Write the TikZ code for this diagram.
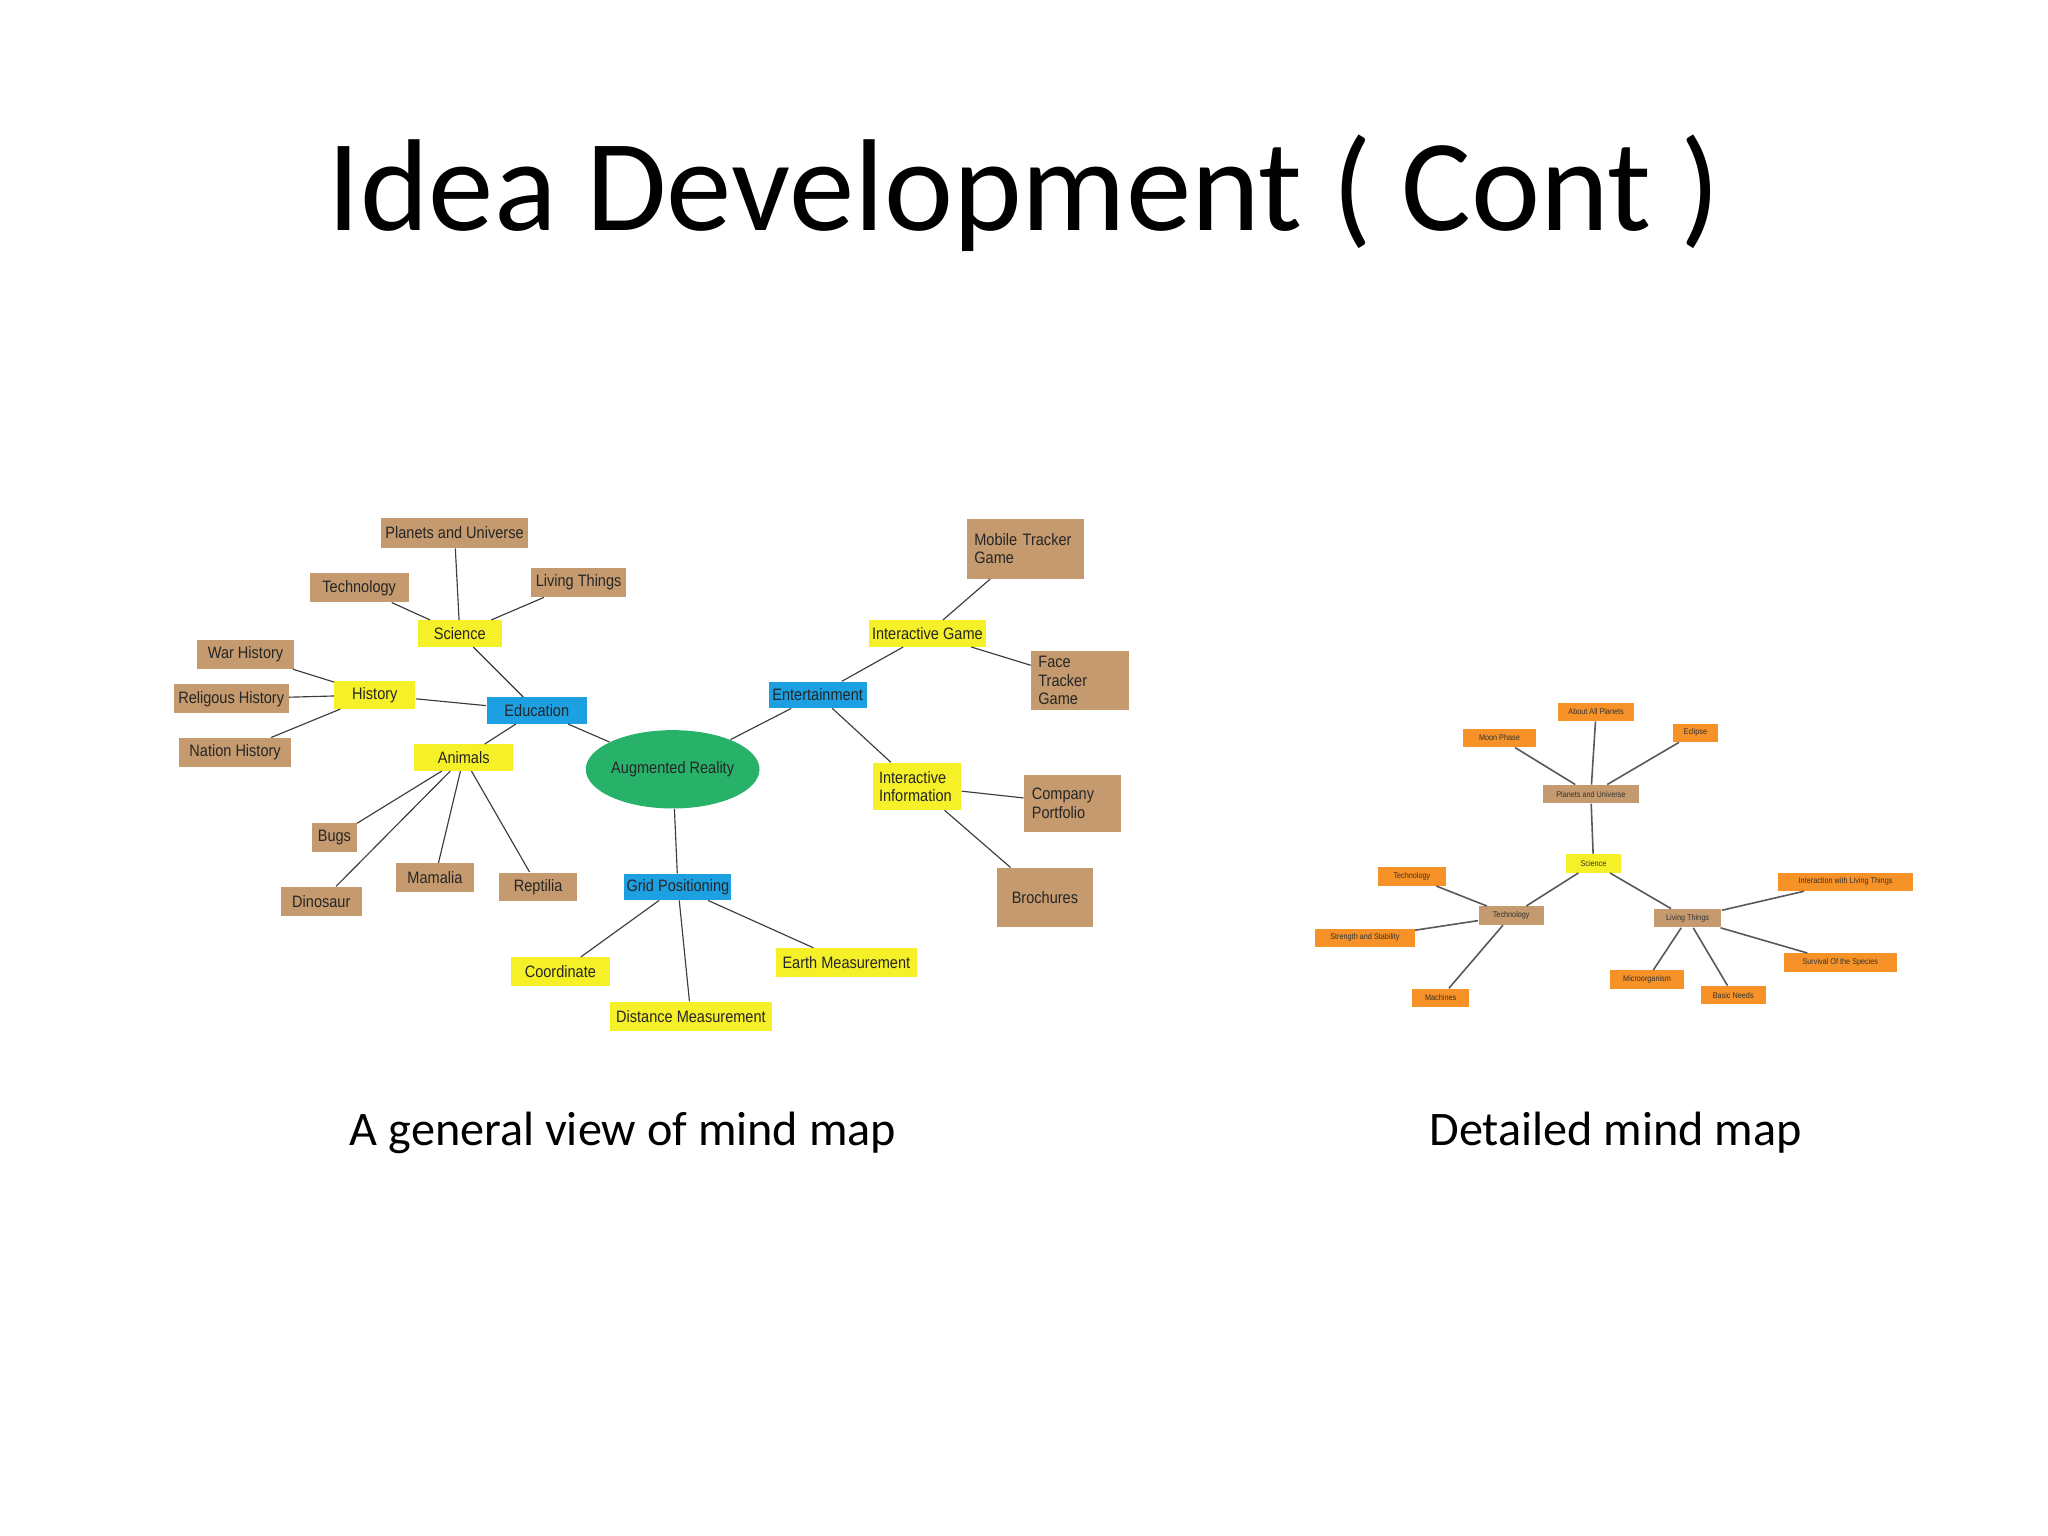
\documentclass[tikz,border=0pt]{standalone}
\usepackage{fontspec}
\setmainfont{Carlito}
\newfontfamily\nodefont[FakeStretch=0.88]{Liberation Sans}
\usetikzlibrary{shapes.geometric}
\definecolor{tanc}{RGB}{196,154,110}
\definecolor{yel}{RGB}{246,240,40}
\definecolor{blu}{RGB}{28,160,226}
\definecolor{grn}{RGB}{40,178,105}
\definecolor{org}{RGB}{246,146,40}
\definecolor{edg}{RGB}{60,60,60}
\tikzset{
 bx/.style={rectangle,inner sep=0pt,font=\nodefont\fontsize{7.2}{8}\selectfont,text=black!85,align=left},
 tn/.style={bx,fill=tanc},
 yl/.style={bx,fill=yel},
 bl/.style={bx,fill=blu},
 sb/.style={rectangle,inner sep=1.5pt,minimum height=14*0.02cm,font=\nodefont\fontsize{3.6}{4}\selectfont,text=black!80},
 so/.style={sb,fill=org},
 st/.style={sb,fill=tanc},
 sy/.style={sb,fill=yel},
 ln/.style={draw=edg,line width=0.5pt},
 sln/.style={draw=gray!70!black,line width=0.7pt}
}
\begin{document}
\begin{tikzpicture}[x=0.02cm,y=-0.02cm]
\useasboundingbox (0,0) rectangle (1568,1176);
\node[font=\fontsize{57}{60}\selectfont] (title) at (784,148) {Idea Development ( Cont )};
% left map
\node[tn,minimum width=112*0.02cm,minimum height=23*0.02cm] (pu) at (348,408) {Planets and Universe};
\node[tn,minimum width=76*0.02cm,minimum height=22*0.02cm] (te) at (275,450) {Technology};
\node[tn,minimum width=73*0.02cm,minimum height=22*0.02cm] (lt) at (443,446) {Living Things};
\node[yl,minimum width=64*0.02cm,minimum height=20*0.02cm] (sc) at (352,485) {Science};
\node[tn,minimum width=74*0.02cm,minimum height=22*0.02cm] (wh) at (188,501) {War History};
\node[tn,minimum width=88*0.02cm,minimum height=22*0.02cm] (rh) at (177,535) {Religous History};
\node[tn,minimum width=86*0.02cm,minimum height=22*0.02cm] (nh) at (180,576) {Nation History};
\node[yl,minimum width=62*0.02cm,minimum height=21*0.02cm] (hi) at (287,532) {History};
\node[bl,minimum width=77*0.02cm,minimum height=20*0.02cm] (ed) at (411,544) {Education};
\node[yl,minimum width=76*0.02cm,minimum height=20*0.02cm] (an) at (355,580) {Animals};
\node[tn,minimum width=34*0.02cm,minimum height=22*0.02cm] (bu) at (256,641) {Bugs};
\node[tn,minimum width=62*0.02cm,minimum height=22*0.02cm] (di) at (246,690) {Dinosaur};
\node[tn,minimum width=60*0.02cm,minimum height=22*0.02cm] (ma) at (333,672) {Mamalia};
\node[tn,minimum width=60*0.02cm,minimum height=22*0.02cm] (re) at (412,679) {Reptilia};
\node[ellipse,fill=grn,minimum width=106*0.02cm,minimum height=60*0.02cm,inner sep=0pt,font=\nodefont\fontsize{7.2}{8}\selectfont,text=black!85] (ar) at (515,589) {Augmented Reality};
\node[bl,minimum width=82*0.02cm,minimum height=20*0.02cm] (gp) at (519,679) {Grid Positioning};
\node[yl,minimum width=76*0.02cm,minimum height=22*0.02cm] (co) at (429,744) {Coordinate};
\node[yl,minimum width=124*0.02cm,minimum height=22*0.02cm] (dm) at (529,778) {Distance Measurement};
\node[yl,minimum width=108*0.02cm,minimum height=22*0.02cm] (em) at (648,737) {Earth Measurement};
\node[bl,minimum width=75*0.02cm,minimum height=20*0.02cm] (en) at (626,532) {Entertainment};
\node[yl,minimum width=90*0.02cm,minimum height=20*0.02cm] (ig) at (710,485) {Interactive Game};
\node[tn,minimum width=90*0.02cm,minimum height=46*0.02cm,text width=78*0.02cm] (mt) at (785,420) {Mobile Tracker\\Game};
\node[tn,minimum width=75*0.02cm,minimum height=45*0.02cm,text width=64*0.02cm] (ft) at (827,521) {Face Tracker\\Game};
\node[yl,minimum width=68*0.02cm,minimum height=36*0.02cm,text width=58*0.02cm] (ii) at (702,602) {Interactive\\Information};
\node[tn,minimum width=74*0.02cm,minimum height=44*0.02cm,text width=62*0.02cm] (cp) at (821,615) {Company\\Portfolio};
\node[tn,minimum width=74*0.02cm,minimum height=45*0.02cm] (br) at (800,687) {Brochures};
\foreach \a/\b in {pu/sc,te/sc,lt/sc,sc/ed,wh/hi,rh/hi,nh/hi,hi/ed,an/ed,an/bu,an/di,an/ma,an/re,ed/ar,ar/gp,gp/co,gp/dm,gp/em,ar/en,en/ig,en/ii,ig/mt,ig/ft,ii/cp,ii/br}
  \draw[ln] (\a) -- (\b);
% right map
\node[so,minimum width=56*0.02cm] (mp) at (1148,565) {Moon Phase};
\node[so,minimum width=58*0.02cm] (ap) at (1222,545) {About All Planets};
\node[so,minimum width=34*0.02cm] (ec) at (1298,561) {Eclipse};
\node[st,minimum width=74*0.02cm] (rpu) at (1218,608) {Planets and Universe};
\node[sy,minimum width=42*0.02cm] (rsc) at (1220,661) {Science};
\node[so,minimum width=52*0.02cm] (rt1) at (1081,671) {Technology};
\node[st,minimum width=50*0.02cm] (rt2) at (1157,701) {Technology};
\node[so,minimum width=76*0.02cm] (ss) at (1045,718) {Strength and Stability};
\node[so,minimum width=44*0.02cm] (mc) at (1103,764) {Machines};
\node[st,minimum width=52*0.02cm] (rlt) at (1292,703) {Living Things};
\node[so,minimum width=104*0.02cm] (iw) at (1413,675) {Interaction with Living Things};
\node[so,minimum width=86*0.02cm] (sv) at (1409,737) {Survival Of the Species};
\node[so,minimum width=50*0.02cm] (bn) at (1327,762) {Basic Needs};
\node[so,minimum width=56*0.02cm] (mo) at (1261,750) {Microorganism};
\foreach \a/\b in {mp/rpu,ap/rpu,ec/rpu,rpu/rsc,rsc/rt2,rsc/rlt,rt1/rt2,ss/rt2,mc/rt2,rlt/iw,rlt/sv,rlt/bn,rlt/mo}
  \draw[sln] (\a) -- (\b);
\node[font=\fontsize{21}{24}\selectfont] (c1) at (477,867) {A general view of mind map};
\node[font=\fontsize{21}{24}\selectfont] (c2) at (1237,867) {Detailed mind map};
\end{tikzpicture}
\end{document}
